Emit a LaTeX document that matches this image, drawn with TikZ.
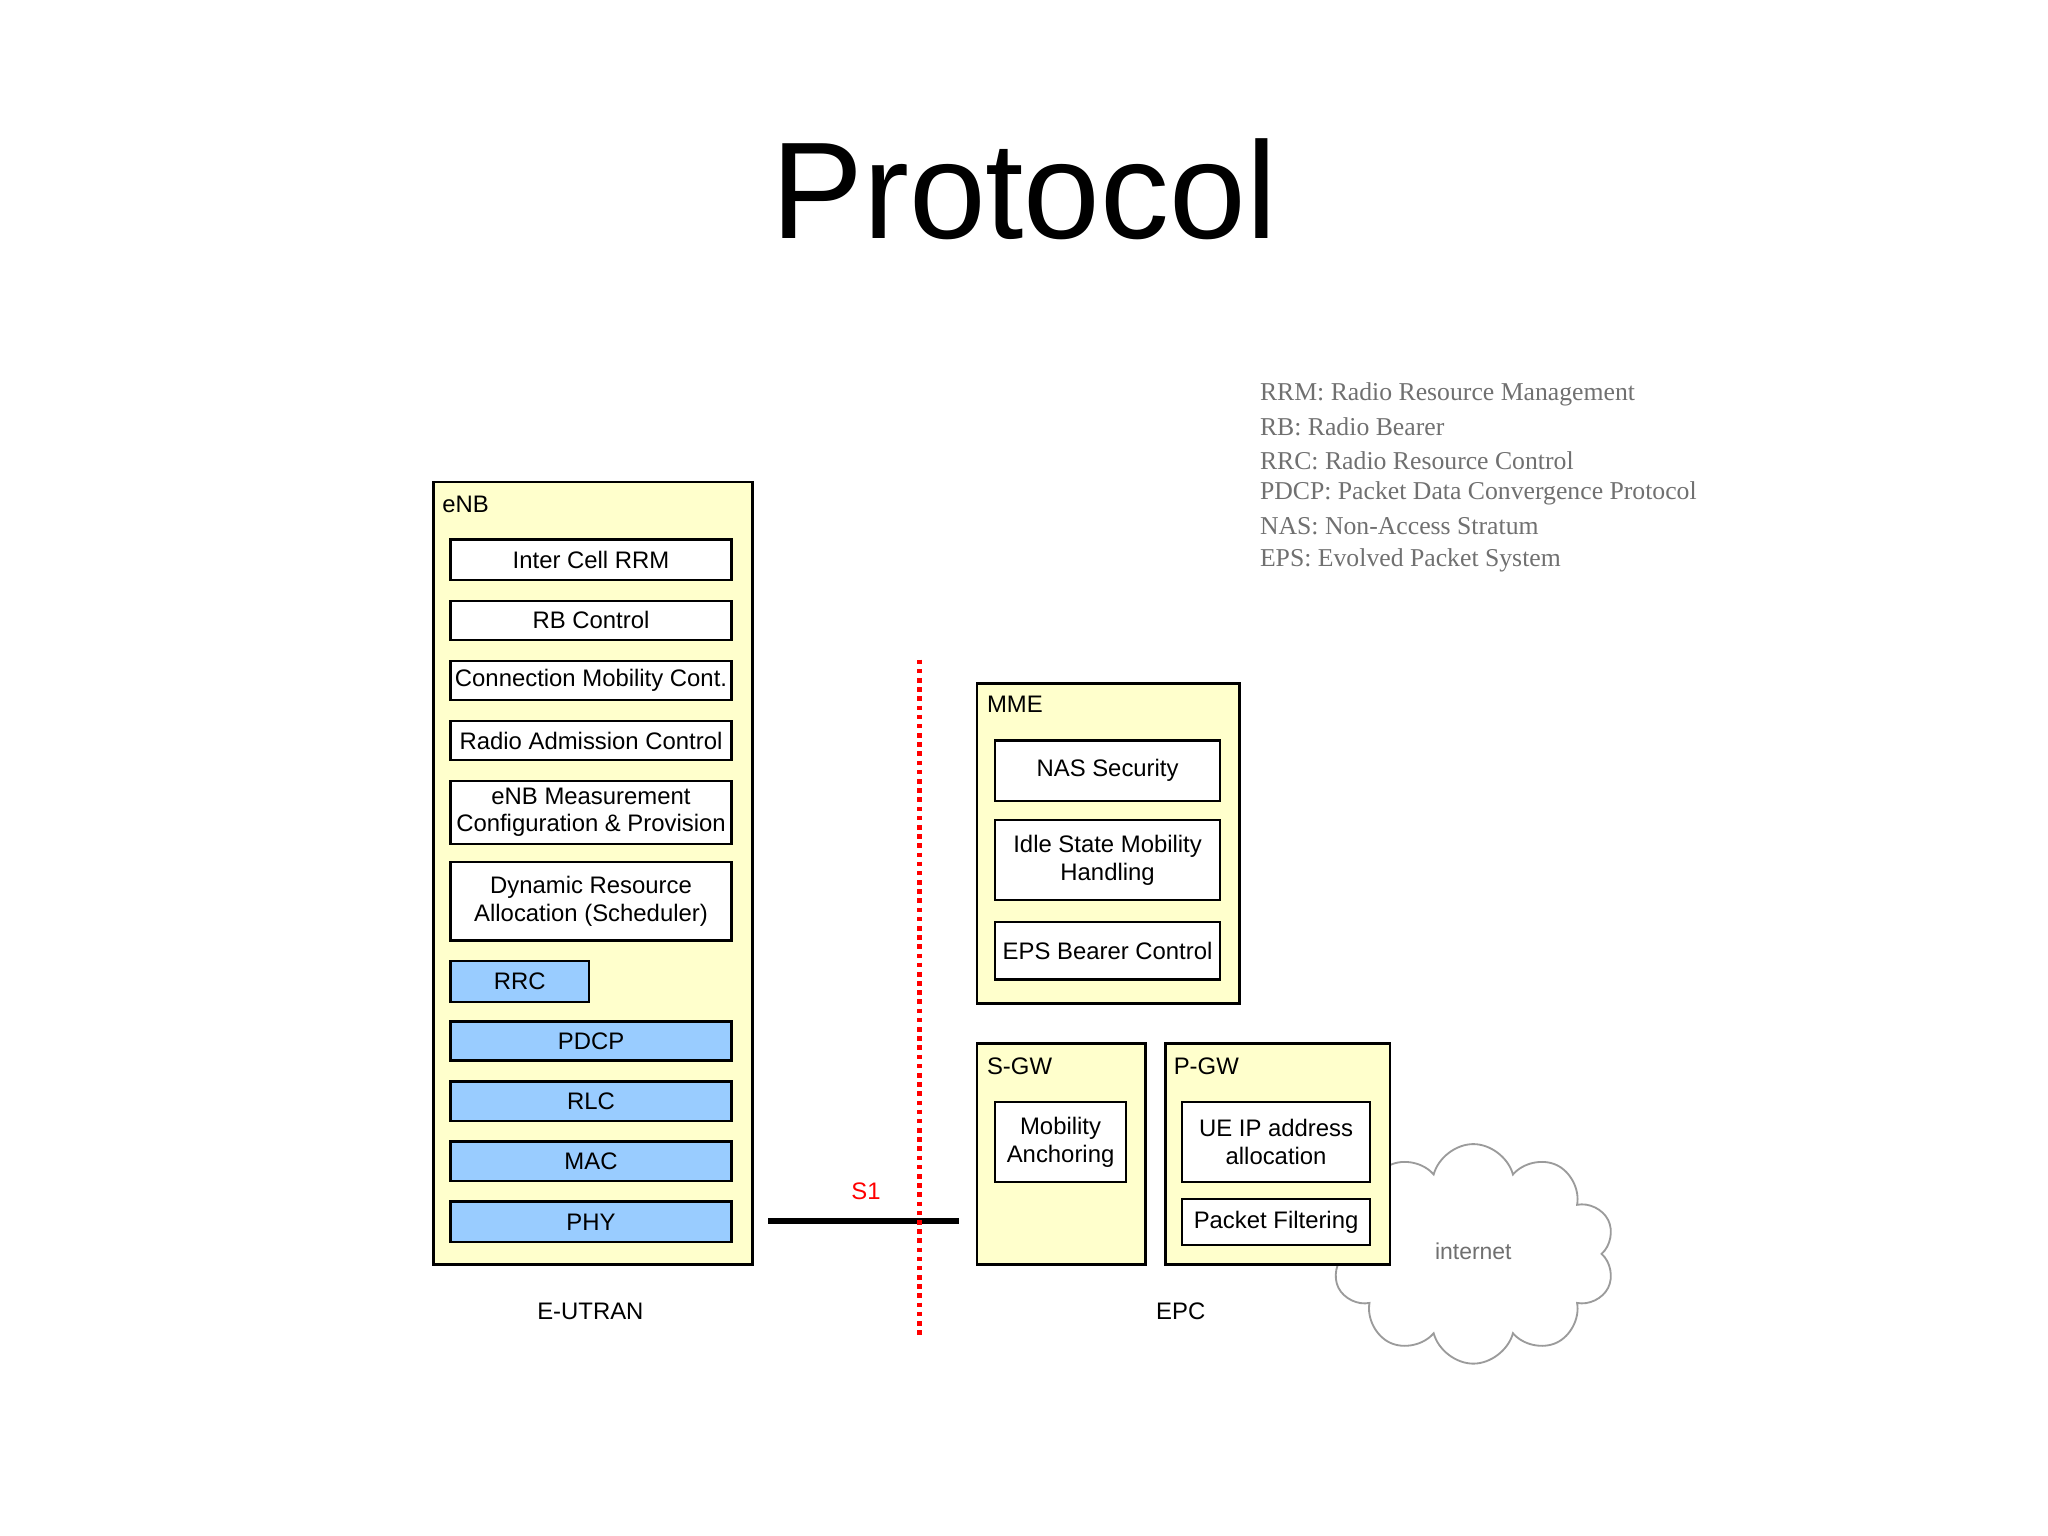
\documentclass[tikz,border=0pt]{standalone}
\usepackage{fontspec}
\setmainfont{Liberation Sans}
\newfontfamily\legfont{Liberation Serif}
\usetikzlibrary{shapes.symbols}
\definecolor{ylw}{HTML}{FFFFCC}
\definecolor{blu}{HTML}{99CCFF}
\definecolor{lgray}{HTML}{707070}
\begin{document}
\begin{tikzpicture}[x=0.01cm,y=-0.01cm,
  cont/.style={draw,fill=ylw,line width=0.6pt,anchor=north west,inner sep=0},
  box/.style={draw,fill=white,line width=0.5pt,align=center,font=\fontsize{5.2}{6}\selectfont,inner sep=0},
  bbox/.style={box,fill=blu},
  lbl/.style={font=\fontsize{5.2}{6}\selectfont,anchor=west,inner sep=0},
  leg/.style={font=\legfont\fontsize{5.6}{6.4}\selectfont,text=lgray,anchor=west,inner sep=0}]
\useasboundingbox (0,0) rectangle (1568,1176);
\node (title) at (784,145) {\fontsize{30}{34}\selectfont Protocol};
\node[leg] (l1) at (964,302) {RRM: Radio Resource Management};
\node[leg] (l2) at (964,327) {RB: Radio Bearer};
\node[leg] (l3) at (964,353) {RRC: Radio Resource Control};
\node[leg] (l4) at (964,378) {PDCP: Packet Data Convergence Protocol};
\node[leg] (l5) at (964,403) {NAS: Non-Access Stratum};
\node[leg] (l6) at (964,429) {EPS: Evolved Packet System};
% cloud
\node[cloud,cloud puffs=10,draw=lgray!70,fill=white,minimum width=2.17cm,minimum height=1.68cm,aspect=1.3] (cl) at (1128,960) {};
\node[font=\fontsize{5}{6}\selectfont,text=lgray] (inet) at (1128,958) {internet};
% eNB
\node[cont,minimum width=2.44cm,minimum height=5.99cm] (enb) at (331,368) {};
\node[lbl] (enbl) at (338,386) {eNB};
\node[box,minimum width=2.15cm,minimum height=0.31cm] (b1) at (452.5,428.5) {Inter Cell RRM};
\node[box,minimum width=2.15cm,minimum height=0.30cm] (b2) at (452.5,475) {RB Control};
\node[box,minimum width=2.15cm,minimum height=0.30cm] (b3) at (452.5,521) {Connection Mobility Cont.};
\node[box,minimum width=2.15cm,minimum height=0.30cm] (b4) at (452.5,567) {Radio Admission Control};
\node[box,minimum width=2.15cm,minimum height=0.48cm] (b5) at (452.5,622) {eNB Measurement\\Configuration \& Provision};
\node[box,minimum width=2.15cm,minimum height=0.60cm] (b6) at (452.5,690) {Dynamic Resource\\Allocation (Scheduler)};
\node[bbox,minimum width=1.06cm,minimum height=0.31cm] (rrc) at (398,751.5) {RRC};
\node[bbox,minimum width=2.15cm,minimum height=0.30cm] (pdcp) at (452.5,797) {PDCP};
\node[bbox,minimum width=2.15cm,minimum height=0.30cm] (rlc) at (452.5,843) {RLC};
\node[bbox,minimum width=2.15cm,minimum height=0.30cm] (mac) at (452.5,889) {MAC};
\node[bbox,minimum width=2.15cm,minimum height=0.31cm] (phy) at (452.5,935.5) {PHY};
\node[font=\fontsize{5.2}{6}\selectfont] (eut) at (452,1004) {E-UTRAN};
\node[font=\fontsize{5.2}{6}\selectfont] (epc) at (904,1004) {EPC};
% S1
\coordinate (s1a) at (588,935);
\coordinate (s1b) at (734,935);
\draw[line width=1.3pt] (s1a) -- (s1b);
\coordinate (va) at (704,505);
\coordinate (vb) at (704,1025);
\draw[red,line width=1pt,densely dotted] (va) -- (vb);
\node[text=red,font=\fontsize{5.2}{6}\selectfont] (s1) at (663,912) {S1};
% MME
\node[cont,minimum width=2.01cm,minimum height=2.45cm] (mme) at (747,522) {};
\node[lbl] (mmel) at (755,539) {MME};
\node[box,minimum width=1.72cm,minimum height=0.46cm] (nas) at (848,590) {NAS Security};
\node[box,minimum width=1.72cm,minimum height=0.61cm] (idle) at (848,658.5) {Idle State Mobility\\Handling};
\node[box,minimum width=1.72cm,minimum height=0.44cm] (eps) at (848,728) {EPS Bearer Control};
% S-GW
\node[cont,minimum width=1.29cm,minimum height=1.69cm] (sgw) at (747,798) {};
\node[lbl] (sgwl) at (755,816) {S-GW};
\node[box,minimum width=1.00cm,minimum height=0.61cm] (mob) at (812,874.5) {Mobility\\Anchoring};
% P-GW
\node[cont,minimum width=1.72cm,minimum height=1.69cm] (pgw) at (891,798) {};
\node[lbl] (pgwl) at (898,816) {P-GW};
\node[box,minimum width=1.44cm,minimum height=0.61cm] (ueip) at (977,874.5) {UE IP address\\allocation};
\node[box,minimum width=1.44cm,minimum height=0.35cm] (pf) at (977,935.5) {Packet Filtering};
\end{tikzpicture}
\end{document}
